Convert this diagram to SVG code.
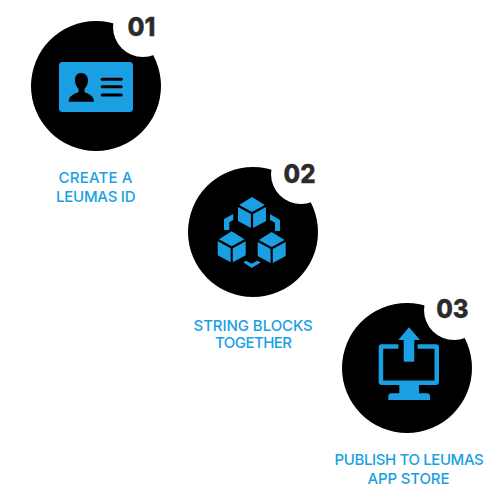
<svg xmlns="http://www.w3.org/2000/svg" width="500" height="500" viewBox="0 0 500 500">
<style>
.disc{fill:#000}
.notch{fill:#fff}
.icon{fill:#1a9fe3}
.num{font-family:"Inter","Liberation Sans",sans-serif;font-weight:800;font-size:26px;fill:#2b2b2b;stroke:#2b2b2b;stroke-width:.3px}
.lab{font-family:"Inter","Liberation Sans",sans-serif;font-weight:500;font-size:15px;fill:#1a9fe3}
</style>
<defs>
<g id="cube" class="icon">
<polygon points="252,197 264.800,205 252,212 239.200,205"/>
<polygon points="238,207 250.900,214 250.900,228 238,221"/>
<polygon points="253.100,214 266,207 266,221 253.100,228"/>
</g>
</defs>
<rect width="500" height="500" fill="#fff"/>
<g id="step-1">
<circle class="disc" cx="96" cy="86" r="65"/>
<circle class="notch" cx="143" cy="27" r="30"/>
<text class="num" x="127.500" y="36" textLength="28" lengthAdjust="spacingAndGlyphs">01</text>
<rect class="icon" x="59" y="62" width="74" height="50" rx="3.500"/>
<path d="M81 73c4.500 0 7 3.300 7 7.500 0 3.500-1.500 6.500-3.500 8.500v3c3 1.800 9.500 3 9.500 9.700H68.700c0-6.700 6.800-7.900 9.800-9.700v-3c-2-2-3.500-5-3.500-8.500 0-4.200 1.500-7.500 6-7.500z" fill="#000"/>
<g fill="#000">
<rect x="100.700" y="77.800" width="22" height="3" rx="1.500"/>
<rect x="100.700" y="85.300" width="22" height="3" rx="1.500"/>
<rect x="100.700" y="93.500" width="22" height="3" rx="1.500"/>
</g>
<text class="lab" x="58.500" y="183" textLength="74">CREATE A</text>
<text class="lab" x="56" y="201.700" textLength="79.500">LEUMAS ID</text>
</g>
<g id="step-2">
<circle class="disc" cx="253" cy="232" r="65"/>
<circle class="notch" cx="301" cy="174" r="30"/>
<text class="num" x="283.500" y="182.500" textLength="32" lengthAdjust="spacingAndGlyphs">02</text>
<use href="#cube"/>
<use href="#cube" x="-20.300" y="34.300"/>
<use href="#cube" x="19.700" y="35"/>
<g class="icon">
<polygon points="233.300,214 233.300,220 229.300,222.300 229.300,230 224,230 224,219"/>
<polygon points="270,214 280,220 280,231 275,231 275,222.700 270,220"/>
<polygon points="243.300,262.300 246,260.700 251.700,263.700 257.300,260.700 261,262.300 251.700,268"/>
</g>
<text class="lab" x="193.500" y="330.500" textLength="119.300">STRING BLOCKS</text>
<text class="lab" x="215" y="348.300" textLength="77">TOGETHER</text>
</g>
<g id="step-3">
<circle class="disc" cx="407" cy="368" r="65"/>
<circle class="notch" cx="454" cy="310" r="30"/>
<text class="num" x="436.200" y="317.500" textLength="32.500" lengthAdjust="spacingAndGlyphs">03</text>
<path class="icon" d="M398.300 344.300H381.700a3 3 0 0 0-3 3V382a3 3 0 0 0 3 3H436a3 3 0 0 0 3-3V347.300a3 3 0 0 0-3-3H417.700V348.800H434.500V380.500H383.200V348.800H398.300z"/>
<path class="icon" d="M399.300 385H419V393.300H427a3 3 0 0 1 3 3V400H388.300V396.300a3 3 0 0 1 3-3H399.300z"/>
<path class="icon" d="M409 327.300L420 340H414.300V360.700a1 1 0 0 1-1 1H404.700a1 1 0 0 1-1-1V340H398.300z"/>
<text class="lab" x="334.500" y="465" textLength="149.300">PUBLISH TO LEUMAS</text>
<text class="lab" x="367.500" y="484" textLength="82">APP STORE</text>
</g>
<g id="connectors"/>
</svg>
